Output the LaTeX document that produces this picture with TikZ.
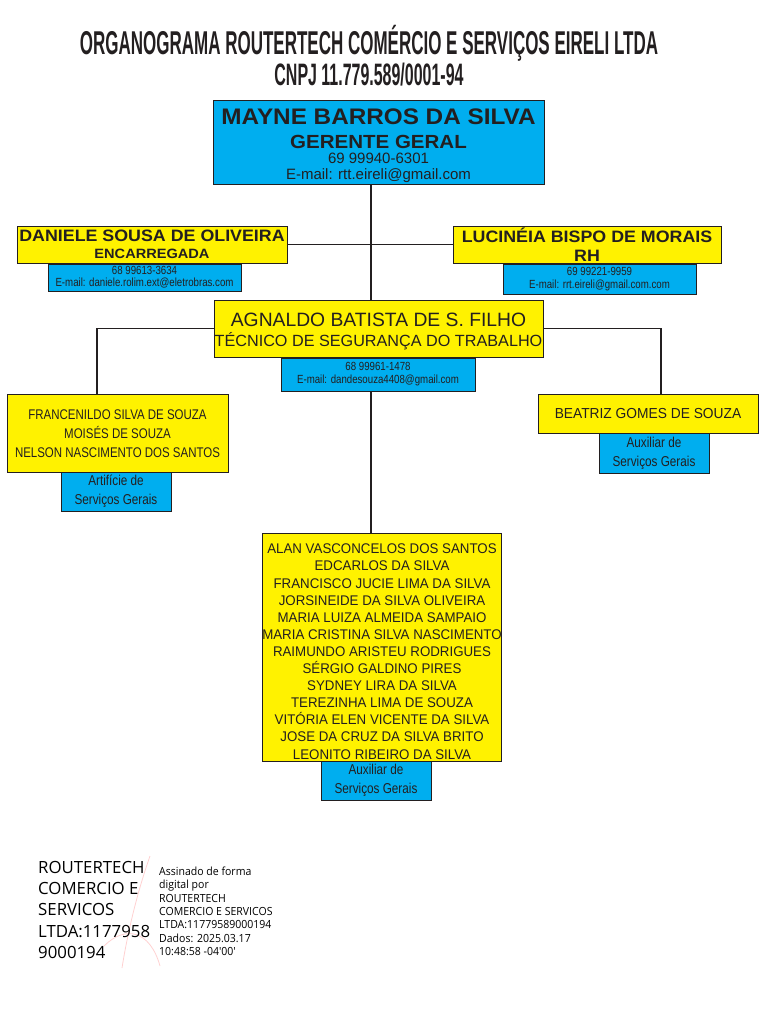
\documentclass[tikz,border=0pt]{standalone}
\usepackage{fontspec}
\setmainfont{Liberation Sans}
\newfontfamily\widefont[FakeStretch=1.08]{Liberation Sans}
\newfontfamily\narrowfont[FakeStretch=0.82]{Liberation Sans}
\newfontfamily\midfont[FakeStretch=0.95]{Liberation Sans}
\newfontfamily\titlefont[FakeStretch=0.515]{Liberation Sans}
\newfontfamily\signfont{Open Sans}
\newfontfamily\signsmall[FakeStretch=0.94]{Open Sans}
\definecolor{boxyellow}{HTML}{FFF200}
\definecolor{boxblue}{HTML}{00AEEF}
\definecolor{linegray}{HTML}{231F20}
\tikzset{
  yellowbox/.style={draw=linegray, line width=0.8pt, fill=boxyellow, text=linegray, inner sep=0pt, align=center},
  bluebox/.style={draw=linegray, line width=0.8pt, fill=boxblue, text=linegray, inner sep=0pt, align=center},
  infotext/.style={font=\narrowfont\fontsize{11.8}{#1}\selectfont},
  servtext/.style={font=\narrowfont\fontsize{14.3}{19}\selectfont},
  link/.style={draw=linegray, line width=1.6pt},
}
\begin{document}
\begin{tikzpicture}[x=1pt,y=-1pt]
  \useasboundingbox (0,0) rectangle (768,1024);

  % title
  \node[text=linegray, anchor=base] (title) at (369,55) {\titlefont\bfseries\fontsize{33}{36}\selectfont ORGANOGRAMA ROUTERTECH COMÉRCIO E SERVIÇOS EIRELI LTDA};
  \node[text=linegray, anchor=base] (cnpj) at (369,86) {\titlefont\bfseries\fontsize{31}{36}\selectfont CNPJ 11.779.589/0001-94};

  % gerente
  \node[bluebox, minimum width=331, minimum height=84, font=\fontsize{15}{15}\selectfont] (mayne) at (378.5,142)
    {{\widefont\bfseries\fontsize{22.5}{22.5}\selectfont\rule{0pt}{24pt}MAYNE BARROS DA SILVA}\\[9pt]
     {\widefont\bfseries\fontsize{19}{19}\selectfont GERENTE GERAL}\\[0pt]
     69 99940-6301\\[1pt]
     E-mail: rtt.eireli@gmail.com};

  % encarregada e rh
  \node[yellowbox, minimum width=270, minimum height=37, font=\widefont\bfseries\fontsize{16.5}{16.5}\selectfont] (daniele) at (152,244.5)
    {DANIELE SOUSA DE OLIVEIRA\\
     {\fontsize{13.5}{13.5}\selectfont ENCARREGADA}};
  \node[bluebox, minimum width=193, minimum height=27, infotext=12] (danieleinfo) at (144.5,277.5)
    {68 99613-3634\\E-mail: daniele.rolim.ext@eletrobras.com};

  \node[yellowbox, minimum width=268, minimum height=37, font=\widefont\bfseries\fontsize{16.5}{19}\selectfont] (lucineia) at (587,244.5)
    {LUCINÉIA BISPO DE MORAIS\\RH};
  \node[bluebox, minimum width=193, minimum height=30, infotext=13] (lucineiainfo) at (599.5,279)
    {69 99221-9959\\E-mail: rrt.eireli@gmail.com.com};

  % tecnico de seguranca
  \node[yellowbox, minimum width=329, minimum height=57, font=\fontsize{16.2}{20}\selectfont] (agnaldo) at (378.5,328.5)
    {{\fontsize{19.3}{20}\selectfont\rule{0pt}{20pt}AGNALDO BATISTA DE S. FILHO}\\
     TÉCNICO DE SEGURANÇA DO TRABALHO};
  \node[bluebox, minimum width=194, minimum height=33, infotext=13] (agnaldoinfo) at (378,374.5)
    {68 99961-1478\\E-mail: dandesouza4408@gmail.com};

  % equipes
  \node[yellowbox, minimum width=221, minimum height=78, font=\narrowfont\fontsize{14}{19}\selectfont] (francenildo) at (117.5,433)
    {\rule{0pt}{12pt}FRANCENILDO SILVA DE SOUZA\\MOISÉS DE SOUZA\\NELSON NASCIMENTO DOS SANTOS};
  \node[bluebox, minimum width=110, minimum height=39, servtext] (artifice) at (116,491.5)
    {Artifície de\\Serviços Gerais};

  \node[yellowbox, minimum width=220, minimum height=39, font=\midfont\fontsize{14.5}{17}\selectfont] (beatriz) at (648,413.5)
    {BEATRIZ GOMES DE SOUZA};
  \node[bluebox, minimum width=110, minimum height=40, servtext] (beatrizinfo) at (654,453)
    {Auxiliar de\\Serviços Gerais};

  \node[yellowbox, minimum width=234, minimum height=228, font=\midfont\fontsize{14}{17.1}\selectfont] (equipe) at (382,647)
    {\rule{0pt}{19pt}ALAN VASCONCELOS DOS SANTOS\\EDCARLOS DA SILVA\\FRANCISCO JUCIE LIMA DA SILVA\\
     JORSINEIDE DA SILVA OLIVEIRA\\MARIA LUIZA ALMEIDA SAMPAIO\\MARIA CRISTINA SILVA NASCIMENTO\\
     RAIMUNDO ARISTEU RODRIGUES\\SÉRGIO GALDINO PIRES\\SYDNEY LIRA DA SILVA\\
     TEREZINHA LIMA DE SOUZA\\VITÓRIA ELEN VICENTE DA SILVA\\JOSE DA CRUZ DA SILVA BRITO\\
     LEONITO RIBEIRO DA SILVA};
  \node[bluebox, minimum width=110, minimum height=39, servtext] (equipeinfo) at (376,780.5)
    {Auxiliar de\\Serviços Gerais};

  % ligacoes
  \coordinate (spine) at (371,0);
  \draw[link] (mayne.south -| spine) -- (agnaldo.north -| spine);
  \draw[link] (daniele.east) -- (lucineia.west);
  \draw[link] (agnaldo.west) -| ([xshift=-20.5]francenildo.north);
  \draw[link] (agnaldo.east) -| ([xshift=13]beatriz.north);
  \draw[link] (agnaldoinfo.south -| spine) -- (equipe.north -| spine);

  % assinatura
  \draw[red!18, line width=0.8pt] (150,856) .. controls (138,890) and (128,930) .. (122,968);
  \draw[red!18, line width=0.8pt] (104,946) .. controls (125,925) and (150,930) .. (160,966);
  \node[anchor=north west, align=left, inner sep=0pt, text=black, font=\signfont\fontsize{16.8}{21.3}\selectfont] (signname) at (38,861)
    {ROUTERTECH\\COMERCIO E\\SERVICOS\\LTDA:1177958\\9000194};
  \node[anchor=north west, align=left, inner sep=0pt, text=black, font=\signsmall\fontsize{11.2}{13.4}\selectfont] (signdata) at (159,866.5)
    {Assinado de forma\\digital por\\ROUTERTECH\\COMERCIO E SERVICOS\\LTDA:11779589000194\\Dados: 2025.03.17\\10:48:58 -04'00'};
\end{tikzpicture}
\end{document}
